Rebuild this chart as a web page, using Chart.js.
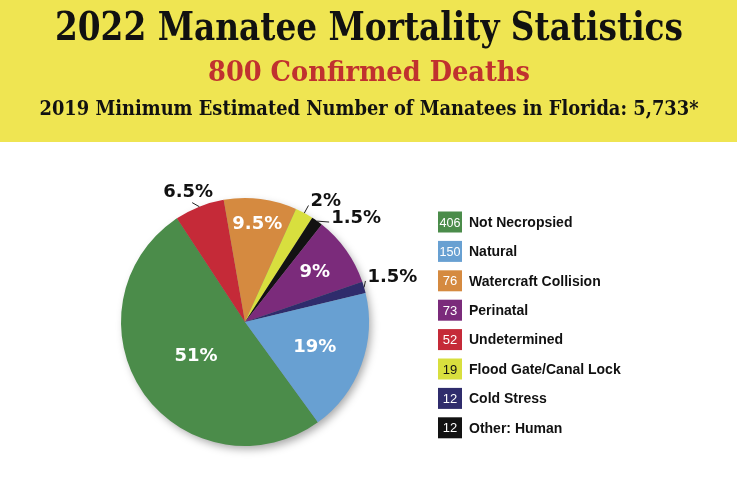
<!DOCTYPE html>
<html><head><meta charset="utf-8">
<script src="https://cdn.jsdelivr.net/npm/chart.js@4"></script>
<style>html,body{margin:0;padding:0;background:#fff}canvas{display:block}</style>
</head><body>
<canvas id="c" width="737" height="500"></canvas>
<script>
const titleLines = ['2022 Manatee Mortality Statistics', '800 Confirmed Deaths', '2019 Minimum Estimated Number of Manatees in Florida: 5,733*'];
const categories = ['Not Necropsied', 'Natural', 'Watercraft Collision', 'Perinatal', 'Undetermined', 'Flood Gate/Canal Lock', 'Cold Stress', 'Other: Human'];
const deaths = [406, 150, 76, 73, 52, 19, 12, 12];
const percentLabels = ['51%', '19%', '9.5%', '9%', '6.5%', '2%', '1.5%', '1.5%'];
// clockwise drawing order of the slices (indices into categories)
const pieOrder = [0, 4, 2, 5, 7, 3, 6, 1];
const colors = ['#4b8c4a', '#68a0d2', '#d58a40', '#7b2b7b', '#c52a38', '#d8df3e', '#2f2c6c', '#121212'];
const numberColors = ['#fff', '#fff', '#fff', '#fff', '#fff', '#111', '#fff', '#fff'];
// label placement style: radial fraction for inside labels, null = outside with leader line
const insideLabelRadius = [0.48, 0.6, 0.79, 0.69, null, null, null, null];
// small nudges of the outside labels' leader-line ends (style only)
const outsideNudge = [null, null, null, null, [-4, 4], [0, 0], [-7, -4], [7, 8]];

const headerPlugin = {
  id: 'header',
  beforeDraw(chart) {
    const ctx = chart.ctx;
    ctx.save();
    ctx.fillStyle = '#ffffff';
    ctx.fillRect(0, 0, chart.width, chart.height);
    ctx.fillStyle = '#efe552';
    ctx.fillRect(0, 0, chart.width, 142);
    ctx.textAlign = 'center';
    ctx.textBaseline = 'alphabetic';
    const cx = 369;
    ctx.fillStyle = '#111';
    ctx.font = 'bold 39px "DejaVu Serif"';
    ctx.fillText(titleLines[0], cx, 40, 628);
    ctx.fillStyle = '#c0312f';
    ctx.font = 'bold 28px "DejaVu Serif"';
    ctx.fillText(titleLines[1], cx, 81, 322);
    ctx.fillStyle = '#111';
    ctx.font = 'bold 21px "DejaVu Serif"';
    ctx.fillText(titleLines[2], cx, 115, 659);
    ctx.restore();
  }
};

const shadowPlugin = {
  id: 'pieShadow',
  beforeDatasetsDraw(chart) {
    const arc = chart.getDatasetMeta(0).data[0];
    if (!arc) return;
    const p = arc.getProps(['x', 'y', 'outerRadius'], true);
    const ctx = chart.ctx;
    ctx.save();
    ctx.shadowColor = 'rgba(0,0,0,0.35)';
    ctx.shadowBlur = 9;
    ctx.shadowOffsetX = 3;
    ctx.shadowOffsetY = 4;
    ctx.fillStyle = '#888';
    ctx.beginPath();
    ctx.arc(p.x, p.y, p.outerRadius - 1, 0, Math.PI * 2);
    ctx.fill();
    ctx.restore();
  }
};

const sliceLabelPlugin = {
  id: 'sliceLabels',
  afterDatasetsDraw(chart) {
    const ctx = chart.ctx;
    const meta = chart.getDatasetMeta(0);
    ctx.save();
    ctx.font = 'bold 18px "DejaVu Sans"';
    meta.data.forEach((arc, i) => {
      const idx = pieOrder[i];
      const p = arc.getProps(['x', 'y', 'startAngle', 'endAngle', 'outerRadius'], true);
      const mid = (p.startAngle + p.endAngle) / 2;
      const dx = Math.cos(mid), dy = Math.sin(mid);
      const r = p.outerRadius;
      const k = insideLabelRadius[idx];
      if (k !== null) {
        ctx.fillStyle = '#ffffff';
        ctx.textAlign = 'center';
        ctx.textBaseline = 'middle';
        ctx.fillText(percentLabels[idx], p.x + dx * r * k, p.y + dy * r * k);
      } else {
        const n = outsideNudge[idx] || [0, 0];
        const x0 = p.x + dx * r, y0 = p.y + dy * r;
        const x1 = p.x + dx * r * 1.07 + n[0], y1 = p.y + dy * r * 1.07 + n[1];
        ctx.strokeStyle = '#222';
        ctx.lineWidth = 1;
        ctx.beginPath();
        ctx.moveTo(x0, y0);
        ctx.lineTo(x1, y1);
        ctx.stroke();
        ctx.fillStyle = '#111';
        ctx.textBaseline = 'middle';
        if (Math.abs(dx) < 0.45) {
          ctx.textAlign = 'center';
          ctx.fillText(percentLabels[idx], x1 + (dx < 0 ? -4 : 4), y1 - 10);
        } else {
          ctx.textAlign = dx > 0 ? 'left' : 'right';
          ctx.fillText(percentLabels[idx], x1 + (dx > 0 ? 2 : -2), y1 - 4);
        }
      }
    });
    ctx.restore();
  }
};

const legendPlugin = {
  id: 'boxLegend',
  afterDraw(chart) {
    const ctx = chart.ctx;
    ctx.save();
    const bx = 438, bw = 24, bh = 21, y0 = 222, step = 29.4;
    categories.forEach((name, i) => {
      const cy = y0 + i * step;
      ctx.fillStyle = colors[i];
      ctx.fillRect(bx, cy - bh / 2, bw, bh);
      ctx.fillStyle = numberColors[i];
      ctx.font = '13px "Liberation Sans"';
      ctx.textAlign = 'center';
      ctx.textBaseline = 'middle';
      ctx.fillText(String(deaths[i]), bx + bw / 2, cy + 1, bw - 3);
      ctx.fillStyle = '#111';
      ctx.font = 'bold 14px "Liberation Sans"';
      ctx.textAlign = 'left';
      ctx.fillText(name, 469, cy + 1);
    });
    ctx.restore();
  }
};

new Chart(document.getElementById('c'), {
  type: 'pie',
  data: {
    labels: pieOrder.map(i => categories[i]),
    datasets: [{
      data: pieOrder.map(i => deaths[i]),
      backgroundColor: pieOrder.map(i => colors[i]),
      borderWidth: 0
    }]
  },
  options: {
    responsive: false,
    animation: false,
    rotation: 144,
    layout: { padding: { left: 121, right: 368, top: 198, bottom: 54 } },
    plugins: { legend: { display: false }, tooltip: { enabled: false }, title: { display: false } }
  },
  plugins: [headerPlugin, shadowPlugin, sliceLabelPlugin, legendPlugin]
});
</script>
</body></html>
